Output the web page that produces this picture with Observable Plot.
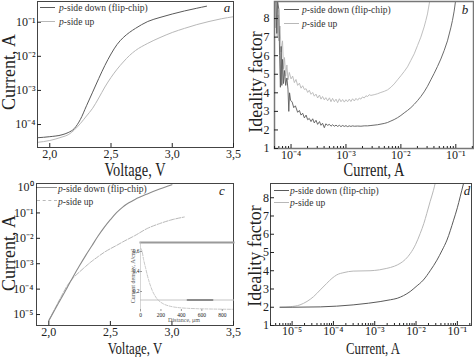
<!DOCTYPE html>
<html><head><meta charset="utf-8">
<script src="https://cdn.jsdelivr.net/npm/d3@7"></script>
<script src="https://cdn.jsdelivr.net/npm/@observablehq/plot@0.6"></script>
<style>
body{margin:0;background:#fff}
#wrap{position:relative;width:474px;height:357px;overflow:hidden;background:#fff;font-family:"Liberation Serif","Times New Roman",serif;color:#222}
.pane{position:absolute}
.pane svg{display:block;overflow:visible}
.pane svg text{font-family:"Liberation Serif","Times New Roman",serif}
.lbl{position:absolute;white-space:nowrap;line-height:1}
.sample{position:absolute;height:0}
</style></head><body><div id="wrap"></div>
<script>
// ---------- Panel a: I–V (semi-log) ----------
const aVoltDown = [1.90,2.00,2.10,2.15,2.20,2.25,2.30,2.35,2.40,2.45,2.50,2.55,2.60,2.65,2.70,2.80,2.90,3.00,3.10,3.20,3.28];
const aCurrDown = [4.1e-5,4.4e-5,5.0e-5,5.8e-5,7.6e-5,1.41e-4,3.55e-4,8.9e-4,2.24e-3,5.4e-3,1.17e-2,2.24e-2,3.55e-2,5.0e-2,6.6e-2,0.105,0.138,0.174,0.214,0.257,0.295];
const aVoltUp = [1.90,2.00,2.10,2.15,2.20,2.25,2.30,2.35,2.40,2.45,2.50,2.55,2.60,2.65,2.70,2.80,2.90,3.00,3.10,3.20,3.30,3.40,3.50];
const aCurrUp = [3.0e-5,3.4e-5,4.3e-5,5.0e-5,6.9e-5,1.07e-4,1.78e-4,3.0e-4,6.0e-4,1.26e-3,2.4e-3,4.2e-3,6.8e-3,1.05e-2,1.48e-2,2.4e-2,3.55e-2,5.0e-2,6.6e-2,8.5e-2,0.105,0.126,0.145];
const aXTicks = [2.0,2.5,3.0,3.5];
const aYTicks = [1e-4,1e-3,1e-2,1e-1];

// ---------- Panel b: ideality factor (measured, noisy) ----------
const bCurrDown = [5.3e-5,5.5e-5,5.7e-5,6.0e-5,6.2e-5,6.4e-5,6.6e-5,6.8e-5,7.0e-5,7.3e-5,7.6e-5,8.0e-5,8.4e-5,8.8e-5,9.1e-5,9.4e-5,9.8e-5,1.05e-4,1.12e-4,1.2e-4,1.32e-4,1.42e-4,1.52e-4,1.63e-4,1.75e-4,1.88e-4,2.01e-4,2.15e-4,2.31e-4,2.48e-4,2.65e-4,2.85e-4,3.05e-4,3.3e-4,3.51e-4,3.75e-4,4.04e-4,4.3e-4,4.64e-4,5.0e-4,5.34e-4,5.7e-4,6.14e-4,6.6e-4,7.05e-4,7.6e-4,8.11e-4,8.7e-4,9.33e-4,1.0e-3,1.07e-3,1.15e-3,1.23e-3,1.32e-3,1.42e-3,1.63e-3,1.87e-3,2.15e-3,2.48e-3,2.85e-3,3.76e-3,4.98e-3,5.72e-3,6.58e-3,7.56e-3,8.69e-3,1.0e-2,1.15e-2,1.32e-2,1.52e-2,1.75e-2,2.01e-2,2.31e-2,2.65e-2,3.05e-2,3.51e-2,4.04e-2,4.64e-2,5.34e-2,6.14e-2,7.05e-2,8.11e-2,8.69e-2,9.33e-2,9.9e-2];
const bIdealDown = [8.9,7.2,8.9,8.5,6.0,4.3,6.5,4.4,5.8,4.5,5.2,4.4,4.8,4.2,3.0,4.0,3.6,3.5,3.2,3.3,2.95,3.05,2.8,2.9,2.65,2.8,2.55,2.62,2.45,2.6,2.38,2.52,2.3,2.45,2.25,2.36,2.12,2.33,2.25,2.3,2.2,2.28,2.2,2.26,2.19,2.25,2.18,2.24,2.19,2.23,2.18,2.22,2.19,2.22,2.2,2.21,2.2,2.22,2.22,2.24,2.28,2.35,2.4,2.48,2.56,2.66,2.78,2.92,3.05,3.2,3.38,3.58,3.8,4.05,4.35,4.7,5.05,5.42,5.82,6.28,6.8,7.5,7.9,8.4,8.95];
const bCurrUp = [5.0e-5,5.2e-5,5.4e-5,5.6e-5,5.8e-5,6.0e-5,6.3e-5,6.6e-5,7.0e-5,7.3e-5,7.6e-5,8.0e-5,8.4e-5,8.8e-5,9.3e-5,1.0e-4,1.07e-4,1.15e-4,1.23e-4,1.32e-4,1.42e-4,1.52e-4,1.63e-4,1.75e-4,1.88e-4,2.01e-4,2.15e-4,2.31e-4,2.48e-4,2.65e-4,2.85e-4,3.05e-4,3.3e-4,3.51e-4,3.75e-4,4.04e-4,4.3e-4,4.64e-4,5.0e-4,5.34e-4,5.7e-4,6.14e-4,6.6e-4,7.05e-4,7.6e-4,8.11e-4,8.7e-4,9.33e-4,1.0e-3,1.07e-3,1.15e-3,1.23e-3,1.32e-3,1.42e-3,1.52e-3,1.63e-3,1.75e-3,1.87e-3,2.0e-3,2.15e-3,2.31e-3,2.48e-3,2.65e-3,2.85e-3,3.27e-3,3.76e-3,4.33e-3,4.98e-3,5.72e-3,6.58e-3,7.56e-3,8.69e-3,1.0e-2,1.15e-2,1.32e-2,1.52e-2,1.75e-2,2.01e-2,2.31e-2,2.65e-2,2.85e-2,3.05e-2,3.35e-2];
const bIdealUp = [8.9,7.5,8.9,7.0,8.2,6.8,7.6,6.2,6.8,5.3,5.9,4.9,5.5,4.7,5.1,4.75,4.9,4.55,4.72,4.4,4.52,4.25,4.38,4.18,4.22,4.02,4.14,3.92,4.02,3.82,3.93,3.72,3.88,3.66,3.8,3.62,3.74,3.57,3.73,3.52,3.7,3.52,3.66,3.47,3.68,3.52,3.64,3.5,3.63,3.52,3.66,3.53,3.68,3.56,3.7,3.6,3.72,3.66,3.78,3.72,3.84,3.8,3.9,3.86,3.9,3.95,4.02,4.08,4.16,4.3,4.48,4.7,4.92,5.15,5.4,5.75,6.1,6.55,7.0,7.55,7.9,8.25,8.95];
const bXTicks = [1e-4,1e-3,1e-2,1e-1];
const idealTicks = [1,2,3,4,5,6,7,8];

// ---------- Panel c: simulated I–V ----------
const cVoltDown = [2.00,2.05,2.10,2.15,2.20,2.25,2.30,2.35,2.40,2.45,2.50,2.55,2.60,2.65,2.70,2.80,2.90,3.00];
const cCurrDown = [5.75e-6,1.58e-5,4.27e-5,1.17e-4,3.24e-4,8.5e-4,2.14e-3,5.1e-3,1.23e-2,2.69e-2,5.4e-2,0.102,0.17,0.25,0.34,0.56,0.87,1.29];
const cVoltUp = [2.00,2.05,2.10,2.15,2.20,2.25,2.30,2.35,2.40,2.45,2.50,2.55,2.60,2.70,2.80,2.90,3.00,3.10];
const cCurrUp = [5.75e-6,1.74e-5,5.0e-5,1.38e-4,2.82e-4,4.8e-4,7.9e-4,1.26e-3,1.9e-3,2.82e-3,3.9e-3,5.25e-3,7.2e-3,1.29e-2,2.45e-2,3.8e-2,5.4e-2,6.9e-2];
const cXTicks = [2.0,2.5,3.0,3.5];
const cYTicks = [1e-5,1e-4,1e-3,1e-2,1e-1,1];

// inset: current density vs distance
const insetDist = [4,16,30,49,65,81,100,115,140,164,195,228,280,326,400,460,560,680,800,900];
const insetJUp = [0.63,0.6,0.52,0.44,0.37,0.31,0.25,0.21,0.16,0.124,0.095,0.074,0.055,0.045,0.036,0.032,0.028,0.025,0.023,0.022];
const insetFlatDist = [0,910];
const insetFlatJ = [0.115,0.115];
const insetSegDist = [460,705];
const insetSegJ = [0.115,0.115];
const insetXTicks = [0,200,400,600,800];
const insetYTicks = [0.2,0.4,0.6];

// ---------- Panel d: simulated ideality factor ----------
const dCurrDown = [5.1e-6,1e-5,4.8e-5,1.2e-4,3.0e-4,7e-4,1.35e-3,2.4e-3,3.5e-3,5e-3,7.2e-3,1.0e-2,1.5e-2,2.2e-2,3.2e-2,4.3e-2,5.6e-2,8.1e-2,0.1,0.117,0.141];
const dIdealDown = [2.0,2.0,2.02,2.06,2.13,2.22,2.31,2.41,2.49,2.64,2.86,3.13,3.49,4.0,4.58,5.13,5.68,6.77,7.45,8.05,8.78];
const dCurrUp = [5.1e-6,9e-6,1.55e-5,2.3e-5,3.3e-5,4.8e-5,6.9e-5,9.2e-5,1.2e-4,1.8e-4,3.0e-4,7.7e-4,1.3e-3,1.96e-3,3.0e-3,4.1e-3,5.5e-3,7.3e-3,9.8e-3,1.26e-2,1.55e-2,1.82e-2,2.2e-2,2.64e-2,2.9e-2];
const dIdealUp = [2.0,2.03,2.13,2.32,2.58,2.95,3.31,3.58,3.77,3.9,3.98,4.0,4.05,4.13,4.25,4.4,4.62,4.95,5.45,6.04,6.6,7.14,7.8,8.41,8.78];
const dXTicks = [1e-5,1e-4,1e-3,1e-2,1e-1];

const seriesNames = ["p-side down (flip-chip)", "p-side up"];

// ---------- helpers ----------
const zip = (xs, ys, kx, ky) => xs.map((v, i) => ({[kx]: v, [ky]: ys[i]})).filter(d => d[ky] !== undefined);
const SUP = {"-":"⁻","0":"⁰","1":"¹","2":"²","3":"³","4":"⁴","5":"⁵","6":"⁶","7":"⁷","8":"⁸","9":"⁹"};
const pow10 = v => "10" + String(Math.round(Math.log10(v))).split("").map(c => SUP[c]).join("");
const comma1 = v => d3.format(".1f")(v).replace(".", ",");
function logMinor(lo, hi) {
  const t = [];
  for (let e = -7; e <= 1; e++) for (let k = 2; k <= 9; k++) { const v = k * Math.pow(10, e); if (v >= lo && v <= hi) t.push(v); }
  return t;
}
const DARK = "#5a5a5a", LIGHT = "#b8b8b8", FRAME = "#444";
const STYLE = {fontFamily: "'Liberation Serif', 'Times New Roman', serif", fontSize: "12px", background: "transparent", color: "#222"};
const wrap = document.getElementById("wrap");
function place(svg, left, top) {
  const d = document.createElement("div");
  d.className = "pane"; d.style.left = left + "px"; d.style.top = top + "px";
  d.appendChild(svg); wrap.appendChild(d);
}

// ---------- panel a ----------
place(Plot.plot({
  width: 237, height: 175, marginLeft: 37, marginRight: 4, marginTop: 1, marginBottom: 28,
  x: {domain: [1.9, 3.5]},
  y: {type: "log", domain: [2.12e-5, 0.405]},
  style: STYLE,
  marks: [
    Plot.line(zip(aVoltUp, aCurrUp, "v", "i"), {x: "v", y: "i", stroke: LIGHT, strokeWidth: 1, curve: "monotone-x", clip: true}),
    Plot.line(zip(aVoltDown, aCurrDown, "v", "i"), {x: "v", y: "i", stroke: DARK, strokeWidth: 1, curve: "monotone-x", clip: true}),
    Plot.frame({stroke: FRAME}),
    Plot.axisX(aXTicks, {tickSize: -4, tickPadding: 6, tickFormat: comma1, label: null}),
    Plot.axisY(aYTicks, {tickSize: -4, tickPadding: 6, tickFormat: pow10, label: null})
  ]
}), 0, 0);

// ---------- panel b ----------
const bDom = [5e-5, 0.21];
place(Plot.plot({
  width: 237, height: 175, marginLeft: 37, marginRight: 1, marginTop: 1, marginBottom: 27,
  x: {type: "log", domain: bDom},
  y: {domain: [1, 8.92]},
  style: STYLE,
  marks: [
    Plot.line(zip(bCurrUp, bIdealUp, "c", "n"), {x: "c", y: "n", stroke: LIGHT, strokeWidth: 0.9, clip: true}),
    Plot.line(zip(bCurrDown, bIdealDown, "c", "n"), {x: "c", y: "n", stroke: DARK, strokeWidth: 0.9, clip: true}),
    Plot.frame({stroke: "#777", strokeWidth: 1.5}),
    Plot.axisX(logMinor(...bDom), {tickSize: -2, tickFormat: () => "", label: null}),
    Plot.axisX(bXTicks, {tickSize: -4, tickPadding: 5.5, tickFormat: pow10, label: null}),
    Plot.axisY(idealTicks, {tickSize: -4, tickPadding: 9, label: null})
  ]
}), 237, 0);

// ---------- panel c ----------
place(Plot.plot({
  width: 237, height: 182, marginLeft: 36, marginRight: 4, marginTop: 8, marginBottom: 32,
  x: {domain: [1.9, 3.5]},
  y: {type: "log", domain: [3.7e-6, 1.44]},
  style: STYLE,
  marks: [
    Plot.line(zip(cVoltUp, cCurrUp, "v", "i"), {x: "v", y: "i", stroke: LIGHT, strokeWidth: 1, strokeDasharray: "5,1.5", curve: "monotone-x", clip: true}),
    Plot.line(zip(cVoltDown, cCurrDown, "v", "i"), {x: "v", y: "i", stroke: "#8a8a8a", strokeWidth: 1.1, curve: "monotone-x", clip: true}),
    Plot.frame({stroke: FRAME}),
    Plot.axisX(cXTicks, {tickSize: -4, tickPadding: 6, tickFormat: comma1, label: null}),
    Plot.axisY(cYTicks, {tickSize: -4, tickPadding: 7, tickFormat: pow10, label: null})
  ]
}), 0, 175);

// inset
place(Plot.plot({
  width: 116, height: 92, marginLeft: 20, marginRight: 3, marginTop: 6, marginBottom: 17,
  x: {domain: [0, 910]},
  y: {domain: [0, 0.69]},
  style: {...STYLE, fontSize: "5.5px"},
  marks: [
    Plot.line(zip(insetFlatDist, insetFlatJ, "d", "j"), {x: "d", y: "j", stroke: "#c4c4c4", strokeWidth: 1}),
    Plot.line(zip(insetSegDist, insetSegJ, "d", "j"), {x: "d", y: "j", stroke: "#8c8c8c", strokeWidth: 1.8}),
    Plot.line(zip(insetDist, insetJUp, "d", "j"), {x: "d", y: "j", stroke: "#c0c0c0", strokeWidth: 0.9, strokeDasharray: "3,1.5", curve: "monotone-x"}),
    Plot.frame({anchor: "top", stroke: "#9a9a9a", strokeWidth: 2}),
    Plot.frame({anchor: "left", stroke: "#bbb", strokeWidth: 0.6}),
    Plot.axisX(insetXTicks, {tickSize: -2, tickPadding: 4, label: null, stroke: "#999"}),
    Plot.axisY(insetYTicks, {tickSize: -2, tickPadding: 3, tickFormat: comma1, label: null, stroke: "#999"})
  ]
}), 120, 236);

// ---------- panel d ----------
const dDom = [3e-6, 0.22];
place(Plot.plot({
  width: 237, height: 182, marginLeft: 33, marginRight: 3, marginTop: 8, marginBottom: 32,
  x: {type: "log", domain: dDom},
  y: {domain: [1, 8.78]},
  style: STYLE,
  marks: [
    Plot.line(zip(dCurrUp, dIdealUp, "c", "n"), {x: "c", y: "n", stroke: LIGHT, strokeWidth: 1, curve: "monotone-x", clip: true}),
    Plot.line(zip(dCurrDown, dIdealDown, "c", "n"), {x: "c", y: "n", stroke: DARK, strokeWidth: 1, curve: "monotone-x", clip: true}),
    Plot.frame({stroke: FRAME}),
    Plot.axisX(logMinor(...dDom), {tickSize: -2, tickFormat: () => "", label: null}),
    Plot.axisX(dXTicks, {tickSize: -4, tickPadding: 4.5, tickFormat: pow10, label: null}),
    Plot.axisY(idealTicks, {tickSize: -4, tickPadding: 5.5, label: null})
  ]
}), 237, 175);

// ---------- overlay text: axis titles, legends, panel letters ----------
function label(html, x, y, {size = 18, rotate = 0, sx = 1, anchor = "center", italic = false, color = "#222"} = {}) {
  const d = document.createElement("div");
  d.className = "lbl"; d.innerHTML = html;
  d.style.fontSize = size + "px"; d.style.color = color;
  if (italic) d.style.fontStyle = "italic";
  d.style.left = x + "px"; d.style.top = y + "px";
  const tx = anchor === "center" ? "-50%" : "0";
  d.style.transformOrigin = anchor === "center" ? "center" : "left center";
  d.style.transform = `translate(${tx},-50%) rotate(${rotate}deg) scaleX(${sx})`;
  wrap.appendChild(d);
}
function sample(x1, x2, y, color, width, dash) {
  const d = document.createElement("div");
  d.className = "sample";
  d.style.left = x1 + "px"; d.style.top = (y - width / 2) + "px"; d.style.width = (x2 - x1) + "px";
  d.style.borderTop = `${width}px ${dash ? "dashed" : "solid"} ${color}`;
  wrap.appendChild(d);
}
const legName = s => s.replace(/^p/, "<i>p</i>");

// titles
label("Current, A", 8.5, 72, {rotate: -90});
label("Voltage, V", 135, 170, {sx: 0.8});
label("Ideality factor", 255.5, 82, {rotate: -90});
label("Current, A", 374, 170, {sx: 0.8});
label("Current, A", 8.5, 253, {rotate: -90});
label("Voltage, V", 135, 349, {sx: 0.8, size: 16});
label("Ideality factor", 255, 256, {rotate: -90});
label("Current, A", 373, 348.5, {sx: 0.8, size: 16});
label("Current density, A/cm²", 133, 276, {rotate: -90, size: 6, color: "#555"});
label("Distance, μm", 184, 320, {size: 6, color: "#555"});

// legends
const legends = [
  {x1: 40, x2: 55, tx: 59, y: 7, dy: 14, c: [DARK, LIGHT], w: [1, 1], dash: [false, false]},
  {x1: 284, x2: 299, tx: 302, y: 9, dy: 14, c: [DARK, LIGHT], w: [1, 1], dash: [false, false]},
  {x1: 37, x2: 57, tx: 58, y: 188, dy: 12.5, c: ["#8a8a8a", LIGHT], w: [1.5, 1], dash: [false, true]},
  {x1: 274, x2: 289, tx: 290, y: 190, dy: 12, c: [DARK, LIGHT], w: [1, 1], dash: [false, false]}
];
legends.forEach(L => {
  seriesNames.forEach((name, k) => {
    const y = L.y + k * L.dy;
    sample(L.x1, L.x2, y, L.c[k], L.w[k], L.dash[k]);
    label(legName(name), L.tx, y, {size: 11, sx: 0.87, anchor: "start", color: "#333"});
  });
});
// panel letters
label("a", 227, 7, {size: 13, italic: true});
label("b", 465, 9, {size: 13, italic: true});
label("c", 222, 190, {size: 13, italic: true});
label("d", 467, 190, {size: 13, italic: true});
</script></body></html>
